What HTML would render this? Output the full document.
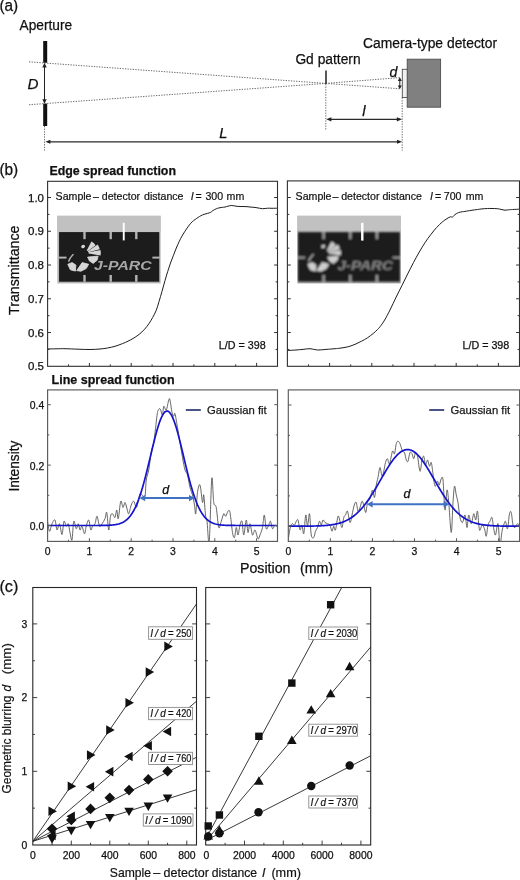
<!DOCTYPE html>
<html><head><meta charset="utf-8"><title>Figure</title>
<style>
html,body{margin:0;padding:0;background:#fff;}
body{width:520px;height:880px;overflow:hidden;}
svg{display:block;font-family:'Liberation Sans', Arial, Helvetica, sans-serif;}
</style></head>
<body>
<svg width="520" height="880" viewBox="0 0 520 880">
<defs>
<filter id="blurA" x="-5%" y="-5%" width="110%" height="110%"><feGaussianBlur stdDeviation="0.6"/></filter>
<filter id="blurB" x="-5%" y="-5%" width="110%" height="110%"><feGaussianBlur stdDeviation="1.2"/></filter>
</defs>
<rect x="0" y="0" width="520" height="880" fill="#ffffff"/>
<text x="-0.6" y="10.9" font-size="15.6" text-anchor="start" font-weight="normal" font-style="normal" fill="#111" textLength="18.8" lengthAdjust="spacingAndGlyphs"  stroke="#111" stroke-width="0.25">(a)</text>
<text x="19.6" y="29.8" font-size="14.9" text-anchor="start" font-weight="normal" font-style="normal" fill="#111" textLength="52.6" lengthAdjust="spacingAndGlyphs"  stroke="#111" stroke-width="0.25">Aperture</text>
<rect x="43.2" y="41" width="4" height="21.8" fill="#111"/>
<rect x="43.2" y="103.6" width="4" height="22.4" fill="#111"/>
<line x1="44.50" y1="65.00" x2="44.50" y2="101.50" stroke="#222" stroke-width="1.0" />
<polygon points="44.50,62.80 46.70,67.40 42.30,67.40" fill="#222" />
<polygon points="44.50,103.80 42.30,99.20 46.70,99.20" fill="#222" />
<text x="27.6" y="89.2" font-size="15.2" text-anchor="start" font-weight="normal" font-style="italic" fill="#111"  stroke="#111" stroke-width="0.25">D</text>
<line x1="29.00" y1="61.84" x2="325.80" y2="83.40" stroke="#686868" stroke-width="1.0" stroke-dasharray="1.3 1.3"/>
<line x1="29.00" y1="104.75" x2="325.80" y2="83.40" stroke="#686868" stroke-width="1.0" stroke-dasharray="1.3 1.3"/>
<line x1="325.80" y1="83.40" x2="400.00" y2="77.60" stroke="#686868" stroke-width="1.0" stroke-dasharray="1.3 1.3"/>
<line x1="325.80" y1="83.40" x2="400.00" y2="88.80" stroke="#686868" stroke-width="1.0" stroke-dasharray="1.3 1.3"/>
<line x1="44.50" y1="126.00" x2="44.50" y2="150.60" stroke="#686868" stroke-width="1.0" stroke-dasharray="1.3 1.3"/>
<line x1="325.80" y1="84.00" x2="325.80" y2="129.50" stroke="#686868" stroke-width="1.0" stroke-dasharray="1.3 1.3"/>
<line x1="402.20" y1="97.60" x2="402.20" y2="150.60" stroke="#686868" stroke-width="1.0" stroke-dasharray="1.3 1.3"/>
<line x1="48.00" y1="141.80" x2="400.00" y2="141.80" stroke="#2a2a2a" stroke-width="1.15" />
<polygon points="45.40,141.80 50.40,139.80 50.40,143.80" fill="#222" />
<polygon points="402.00,141.80 397.00,143.80 397.00,139.80" fill="#222" />
<text x="219.3" y="138" font-size="14.6" text-anchor="start" font-weight="normal" font-style="italic" fill="#111"  stroke="#111" stroke-width="0.25">L</text>
<line x1="329.00" y1="119.30" x2="400.00" y2="119.30" stroke="#2a2a2a" stroke-width="1.15" />
<polygon points="326.20,119.30 331.40,117.20 331.40,121.40" fill="#222" />
<polygon points="402.00,119.30 396.80,121.40 396.80,117.20" fill="#222" />
<text x="362.2" y="115.6" font-size="14.8" text-anchor="start" font-weight="normal" font-style="italic" fill="#111"  stroke="#111" stroke-width="0.25">l</text>
<text x="295.4" y="63.7" font-size="14.9" text-anchor="start" font-weight="normal" font-style="normal" fill="#111" textLength="65.2" lengthAdjust="spacingAndGlyphs"  stroke="#111" stroke-width="0.25">Gd pattern</text>
<line x1="326.00" y1="70.60" x2="326.00" y2="83.60" stroke="#111" stroke-width="1.4" />
<text x="363.0" y="48" font-size="14.9" text-anchor="start" font-weight="normal" font-style="normal" fill="#111" textLength="134" lengthAdjust="spacingAndGlyphs"  stroke="#111" stroke-width="0.25">Camera-type detector</text>
<rect x="407.2" y="59.2" width="33.4" height="48" fill="#808080" stroke="#4d4d4d" stroke-width="0.9"/>
<rect x="402.3" y="69.3" width="4.9" height="28.2" fill="#f0f0f0" stroke="#4d4d4d" stroke-width="0.9"/>
<text x="389.4" y="77" font-size="14.2" text-anchor="start" font-weight="normal" font-style="italic" fill="#111"  stroke="#111" stroke-width="0.25">d</text>
<line x1="399.80" y1="80.00" x2="399.80" y2="86.40" stroke="#222" stroke-width="1.0" />
<polygon points="399.80,77.20 401.80,81.00 397.80,81.00" fill="#222" />
<polygon points="399.80,89.20 397.80,85.40 401.80,85.40" fill="#222" />
<text x="-0.6" y="175.0" font-size="15.8" text-anchor="start" font-weight="normal" font-style="normal" fill="#111" textLength="18.8" lengthAdjust="spacingAndGlyphs"  stroke="#111" stroke-width="0.25">(b)</text>
<text x="49.4" y="174.7" font-size="12.3" text-anchor="start" font-weight="bold" font-style="normal" fill="#111" textLength="126.6" lengthAdjust="spacingAndGlyphs"  stroke="#111" stroke-width="0.25">Edge spread function</text>
<text x="51.6" y="384.2" font-size="12.3" text-anchor="start" font-weight="bold" font-style="normal" fill="#111" textLength="123" lengthAdjust="spacingAndGlyphs"  stroke="#111" stroke-width="0.25">Line spread function</text>
<clipPath id="clipE47"><rect x="47.6" y="181.3" width="229.90" height="185.00"/></clipPath>
<g clip-path="url(#clipE47)">
<path d="M47.50,349.00C48.92,348.97 53.08,348.85 56.00,348.80C58.92,348.75 61.33,348.63 65.00,348.70C68.67,348.77 73.83,349.07 78.00,349.20C82.17,349.33 86.33,349.53 90.00,349.50C93.67,349.47 97.08,349.25 100.00,349.00C102.92,348.75 105.00,348.45 107.50,348.00C110.00,347.55 112.50,347.03 115.00,346.30C117.50,345.57 120.33,344.45 122.50,343.60C124.67,342.75 126.25,342.05 128.00,341.20C129.75,340.35 131.17,339.62 133.00,338.50C134.83,337.38 137.07,336.05 139.00,334.50C140.93,332.95 142.93,331.02 144.60,329.20C146.27,327.38 147.67,325.53 149.00,323.60C150.33,321.67 151.40,319.80 152.60,317.60C153.80,315.40 155.13,313.07 156.20,310.40C157.27,307.73 158.03,304.77 159.00,301.60C159.97,298.43 161.00,294.90 162.00,291.40C163.00,287.90 164.05,283.92 165.00,280.60C165.95,277.28 166.78,274.43 167.70,271.50C168.62,268.57 169.53,265.72 170.50,263.00C171.47,260.28 172.53,257.70 173.50,255.20C174.47,252.70 175.35,250.28 176.30,248.00C177.25,245.72 178.25,243.50 179.20,241.50C180.15,239.50 181.03,237.72 182.00,236.00C182.97,234.28 184.00,232.73 185.00,231.20C186.00,229.67 187.03,228.13 188.00,226.80C188.97,225.47 189.87,224.23 190.80,223.20C191.73,222.17 192.65,221.38 193.60,220.60C194.55,219.82 195.53,219.17 196.50,218.50C197.47,217.83 198.43,217.18 199.40,216.60C200.37,216.02 201.20,215.47 202.30,215.00C203.40,214.53 204.85,214.15 206.00,213.80C207.15,213.45 208.33,213.20 209.20,212.90C210.07,212.60 210.60,212.38 211.20,212.00C211.80,211.62 211.97,211.13 212.80,210.60C213.63,210.07 215.17,209.25 216.20,208.80C217.23,208.35 218.03,208.13 219.00,207.90C219.97,207.67 221.00,207.55 222.00,207.40C223.00,207.25 223.47,207.32 225.00,207.00C226.53,206.68 229.37,205.63 231.20,205.50C233.03,205.37 234.53,206.03 236.00,206.20C237.47,206.37 238.33,206.43 240.00,206.50C241.67,206.57 244.33,206.52 246.00,206.60C247.67,206.68 248.33,206.83 250.00,207.00C251.67,207.17 253.92,207.32 256.00,207.60C258.08,207.88 260.58,208.60 262.50,208.70C264.42,208.80 265.92,208.27 267.50,208.20C269.08,208.13 270.33,208.30 272.00,208.30C273.67,208.30 276.58,208.22 277.50,208.20" fill="none" stroke="#1e1e1e" stroke-width="1.0" stroke-linejoin="round" stroke-linecap="round" />
</g>
<rect x="47.6" y="181.3" width="229.90" height="185.00" fill="none" stroke="#303030" stroke-width="1.1"/>
<text x="44.0" y="370.3" font-size="11.5" text-anchor="end" font-weight="normal" font-style="normal" fill="#111"  stroke="#111" stroke-width="0.25">0.5</text>
<line x1="47.60" y1="349.42" x2="49.50" y2="349.42" stroke="#303030" stroke-width="1.0" />
<line x1="275.60" y1="349.42" x2="277.50" y2="349.42" stroke="#303030" stroke-width="1.0" />
<line x1="47.60" y1="332.54" x2="51.00" y2="332.54" stroke="#303030" stroke-width="1.0" />
<line x1="274.10" y1="332.54" x2="277.50" y2="332.54" stroke="#303030" stroke-width="1.0" />
<text x="44.0" y="336.54" font-size="11.5" text-anchor="end" font-weight="normal" font-style="normal" fill="#111"  stroke="#111" stroke-width="0.25">0.6</text>
<line x1="47.60" y1="315.66" x2="49.50" y2="315.66" stroke="#303030" stroke-width="1.0" />
<line x1="275.60" y1="315.66" x2="277.50" y2="315.66" stroke="#303030" stroke-width="1.0" />
<line x1="47.60" y1="298.78" x2="51.00" y2="298.78" stroke="#303030" stroke-width="1.0" />
<line x1="274.10" y1="298.78" x2="277.50" y2="298.78" stroke="#303030" stroke-width="1.0" />
<text x="44.0" y="302.78000000000003" font-size="11.5" text-anchor="end" font-weight="normal" font-style="normal" fill="#111"  stroke="#111" stroke-width="0.25">0.7</text>
<line x1="47.60" y1="281.90" x2="49.50" y2="281.90" stroke="#303030" stroke-width="1.0" />
<line x1="275.60" y1="281.90" x2="277.50" y2="281.90" stroke="#303030" stroke-width="1.0" />
<line x1="47.60" y1="265.02" x2="51.00" y2="265.02" stroke="#303030" stroke-width="1.0" />
<line x1="274.10" y1="265.02" x2="277.50" y2="265.02" stroke="#303030" stroke-width="1.0" />
<text x="44.0" y="269.02" font-size="11.5" text-anchor="end" font-weight="normal" font-style="normal" fill="#111"  stroke="#111" stroke-width="0.25">0.8</text>
<line x1="47.60" y1="248.14" x2="49.50" y2="248.14" stroke="#303030" stroke-width="1.0" />
<line x1="275.60" y1="248.14" x2="277.50" y2="248.14" stroke="#303030" stroke-width="1.0" />
<line x1="47.60" y1="231.26" x2="51.00" y2="231.26" stroke="#303030" stroke-width="1.0" />
<line x1="274.10" y1="231.26" x2="277.50" y2="231.26" stroke="#303030" stroke-width="1.0" />
<text x="44.0" y="235.26" font-size="11.5" text-anchor="end" font-weight="normal" font-style="normal" fill="#111"  stroke="#111" stroke-width="0.25">0.9</text>
<line x1="47.60" y1="214.38" x2="49.50" y2="214.38" stroke="#303030" stroke-width="1.0" />
<line x1="275.60" y1="214.38" x2="277.50" y2="214.38" stroke="#303030" stroke-width="1.0" />
<line x1="47.60" y1="197.50" x2="51.00" y2="197.50" stroke="#303030" stroke-width="1.0" />
<line x1="274.10" y1="197.50" x2="277.50" y2="197.50" stroke="#303030" stroke-width="1.0" />
<text x="44.0" y="201.5" font-size="11.5" text-anchor="end" font-weight="normal" font-style="normal" fill="#111"  stroke="#111" stroke-width="0.25">1.0</text>
<line x1="68.50" y1="364.40" x2="68.50" y2="366.30" stroke="#303030" stroke-width="1.0" />
<line x1="89.40" y1="362.90" x2="89.40" y2="366.30" stroke="#303030" stroke-width="1.0" />
<line x1="110.30" y1="364.40" x2="110.30" y2="366.30" stroke="#303030" stroke-width="1.0" />
<line x1="131.20" y1="362.90" x2="131.20" y2="366.30" stroke="#303030" stroke-width="1.0" />
<line x1="152.10" y1="364.40" x2="152.10" y2="366.30" stroke="#303030" stroke-width="1.0" />
<line x1="173.00" y1="362.90" x2="173.00" y2="366.30" stroke="#303030" stroke-width="1.0" />
<line x1="193.90" y1="364.40" x2="193.90" y2="366.30" stroke="#303030" stroke-width="1.0" />
<line x1="214.80" y1="362.90" x2="214.80" y2="366.30" stroke="#303030" stroke-width="1.0" />
<line x1="235.70" y1="364.40" x2="235.70" y2="366.30" stroke="#303030" stroke-width="1.0" />
<line x1="256.60" y1="362.90" x2="256.60" y2="366.30" stroke="#303030" stroke-width="1.0" />
<g transform="translate(57.3,215.8)">
<rect x="0" y="0" width="103.3" height="67.6" fill="#b4b4b4"/>
<rect x="0" y="0" width="103.3" height="16.4" fill="#c1c1c1"/>
<clipPath id="icblurA"><rect x="0" y="0" width="103.3" height="67.6"/></clipPath>
<g clip-path="url(#icblurA)"><g filter="url(#blurA)">
<rect x="1.8" y="16.3" width="100.1" height="49.6" fill="#1a1a1a"/>
<rect x="26.0" y="16.2" width="2.4" height="7.2" fill="#b4b4b4"/>
<rect x="26.0" y="59.2" width="2.4" height="6.8" fill="#b4b4b4"/>
<rect x="52.199999999999996" y="16.2" width="2.4" height="7.2" fill="#b4b4b4"/>
<rect x="52.199999999999996" y="59.2" width="2.4" height="6.8" fill="#b4b4b4"/>
<rect x="77.8" y="16.2" width="2.4" height="7.2" fill="#b4b4b4"/>
<rect x="77.8" y="59.2" width="2.4" height="6.8" fill="#b4b4b4"/>
<rect x="1.8" y="40.8" width="7.4" height="2.0" fill="#b4b4b4"/>
<rect x="95.1" y="40.8" width="7.4" height="2.0" fill="#b4b4b4"/>
<path d="M29.41,34.63L34.11,25.80A12.8,12.8 0 0 1 38.32,29.40L30.34,35.41A2.8,2.8 0 0 0 29.41,34.63Z" fill="#d6d6d6"/>
<path d="M30.59,35.42L40.37,28.82A14.8,14.8 0 0 1 42.46,33.52L31.01,36.37A3.0,3.0 0 0 0 30.59,35.42Z" fill="#d6d6d6"/>
<path d="M31.24,36.49L43.22,34.16A15.4,15.4 0 0 1 43.27,39.77L31.25,37.66A3.2,3.2 0 0 0 31.24,36.49Z" fill="#d6d6d6"/>
<polygon points="30.3,41.3 40.8,40.3 39.9,44.4 35.9,47.6 32.1,45.1" fill="#d6d6d6" stroke="#d6d6d6" stroke-width="0.8" stroke-linejoin="round"/>
<polygon points="19.4,54.8 24.9,46.8 31.3,48.5 28.9,52.7 23.6,55.4" fill="#d6d6d6" stroke="#d6d6d6" stroke-width="0.9" stroke-linejoin="round"/>
<polygon points="10.5,48.5 14.8,46.8 18.6,49.3 18.1,55.3 13.1,54.0" fill="#d6d6d6" stroke="#d6d6d6" stroke-width="0.9" stroke-linejoin="round"/>
<path d="M15.8,38.6 Q12.4,42.0 11.4,45.4" fill="none" stroke="#b0b0b0" stroke-width="1.4" stroke-linecap="round"/>
<ellipse cx="25.8" cy="30.7" rx="2.0" ry="1.6" fill="#d6d6d6" transform="rotate(-25 25.8 30.7)"/>
<text x="36.8" y="54.6" font-size="12.6" font-weight="bold" font-style="italic" fill="#a8a8a8" textLength="57.5" lengthAdjust="spacingAndGlyphs">J-PARC</text>
</g></g>
<rect x="65.5" y="7" width="1.9" height="17.6" fill="#ffffff"/>
</g>
<text y="199.8" font-size="10.6" fill="#111" stroke="#111" stroke-width="0.2"><tspan x="55.6">Sample</tspan><tspan x="93.0">–</tspan><tspan x="101.8">detector</tspan><tspan x="144.0">distance</tspan><tspan x="191.0" font-style="italic">l</tspan><tspan x="195.6">=</tspan><tspan x="205.4">300</tspan><tspan x="226.6">mm</tspan></text>
<text x="218.8" y="348.8" font-size="10.6" text-anchor="start" font-weight="normal" font-style="normal" fill="#111" textLength="46.8" lengthAdjust="spacingAndGlyphs"  stroke="#111" stroke-width="0.25">L/D = 398</text>
<clipPath id="clipE287"><rect x="287.4" y="180.9" width="232.10" height="185.40"/></clipPath>
<g clip-path="url(#clipE287)">
<path d="M287.40,350.50C288.83,350.42 293.40,350.18 296.00,350.00C298.60,349.82 300.67,349.62 303.00,349.40C305.33,349.18 307.58,348.60 310.00,348.70C312.42,348.80 314.83,349.88 317.50,350.00C320.17,350.12 323.08,349.62 326.00,349.40C328.92,349.18 332.67,348.90 335.00,348.70C337.33,348.50 338.33,348.42 340.00,348.20C341.67,347.98 343.33,347.73 345.00,347.40C346.67,347.07 348.17,346.78 350.00,346.20C351.83,345.62 354.08,344.73 356.00,343.90C357.92,343.07 359.58,342.22 361.50,341.20C363.42,340.18 365.57,339.07 367.50,337.80C369.43,336.53 371.52,334.90 373.10,333.60C374.68,332.30 375.85,331.13 377.00,330.00C378.15,328.87 378.73,328.45 380.00,326.80C381.27,325.15 382.93,322.90 384.60,320.10C386.27,317.30 388.07,313.85 390.00,310.00C391.93,306.15 394.20,301.10 396.20,297.00C398.20,292.90 400.08,289.25 402.00,285.40C403.92,281.55 405.78,277.72 407.70,273.90C409.62,270.08 411.57,266.15 413.50,262.50C415.43,258.85 417.38,255.32 419.30,252.00C421.22,248.68 423.08,245.50 425.00,242.60C426.92,239.70 428.88,237.10 430.80,234.60C432.72,232.10 434.57,229.72 436.50,227.60C438.43,225.48 440.65,223.40 442.40,221.90C444.15,220.40 445.65,219.45 447.00,218.60C448.35,217.75 449.58,217.07 450.50,216.80C451.42,216.53 451.75,217.37 452.50,217.00C453.25,216.63 454.00,215.33 455.00,214.60C456.00,213.87 457.33,213.07 458.50,212.60C459.67,212.13 460.92,212.00 462.00,211.80C463.08,211.60 463.50,211.63 465.00,211.40C466.50,211.17 468.92,210.72 471.00,210.40C473.08,210.08 475.67,209.75 477.50,209.50C479.33,209.25 480.33,209.07 482.00,208.90C483.67,208.73 485.83,208.57 487.50,208.50C489.17,208.43 490.33,208.47 492.00,208.50C493.67,208.53 496.00,208.55 497.50,208.70C499.00,208.85 499.75,209.15 501.00,209.40C502.25,209.65 503.75,210.13 505.00,210.20C506.25,210.27 507.25,209.92 508.50,209.80C509.75,209.68 510.65,209.60 512.50,209.50C514.35,209.40 518.42,209.25 519.60,209.20" fill="none" stroke="#1e1e1e" stroke-width="1.0" stroke-linejoin="round" stroke-linecap="round" />
</g>
<rect x="287.4" y="180.9" width="232.10" height="185.40" fill="none" stroke="#303030" stroke-width="1.1"/>
<line x1="287.40" y1="349.42" x2="289.30" y2="349.42" stroke="#303030" stroke-width="1.0" />
<line x1="517.60" y1="349.42" x2="519.50" y2="349.42" stroke="#303030" stroke-width="1.0" />
<line x1="287.40" y1="332.54" x2="290.80" y2="332.54" stroke="#303030" stroke-width="1.0" />
<line x1="516.10" y1="332.54" x2="519.50" y2="332.54" stroke="#303030" stroke-width="1.0" />
<line x1="287.40" y1="315.66" x2="289.30" y2="315.66" stroke="#303030" stroke-width="1.0" />
<line x1="517.60" y1="315.66" x2="519.50" y2="315.66" stroke="#303030" stroke-width="1.0" />
<line x1="287.40" y1="298.78" x2="290.80" y2="298.78" stroke="#303030" stroke-width="1.0" />
<line x1="516.10" y1="298.78" x2="519.50" y2="298.78" stroke="#303030" stroke-width="1.0" />
<line x1="287.40" y1="281.90" x2="289.30" y2="281.90" stroke="#303030" stroke-width="1.0" />
<line x1="517.60" y1="281.90" x2="519.50" y2="281.90" stroke="#303030" stroke-width="1.0" />
<line x1="287.40" y1="265.02" x2="290.80" y2="265.02" stroke="#303030" stroke-width="1.0" />
<line x1="516.10" y1="265.02" x2="519.50" y2="265.02" stroke="#303030" stroke-width="1.0" />
<line x1="287.40" y1="248.14" x2="289.30" y2="248.14" stroke="#303030" stroke-width="1.0" />
<line x1="517.60" y1="248.14" x2="519.50" y2="248.14" stroke="#303030" stroke-width="1.0" />
<line x1="287.40" y1="231.26" x2="290.80" y2="231.26" stroke="#303030" stroke-width="1.0" />
<line x1="516.10" y1="231.26" x2="519.50" y2="231.26" stroke="#303030" stroke-width="1.0" />
<line x1="287.40" y1="214.38" x2="289.30" y2="214.38" stroke="#303030" stroke-width="1.0" />
<line x1="517.60" y1="214.38" x2="519.50" y2="214.38" stroke="#303030" stroke-width="1.0" />
<line x1="287.40" y1="197.50" x2="290.80" y2="197.50" stroke="#303030" stroke-width="1.0" />
<line x1="516.10" y1="197.50" x2="519.50" y2="197.50" stroke="#303030" stroke-width="1.0" />
<line x1="308.50" y1="364.40" x2="308.50" y2="366.30" stroke="#303030" stroke-width="1.0" />
<line x1="329.60" y1="362.90" x2="329.60" y2="366.30" stroke="#303030" stroke-width="1.0" />
<line x1="350.70" y1="364.40" x2="350.70" y2="366.30" stroke="#303030" stroke-width="1.0" />
<line x1="371.80" y1="362.90" x2="371.80" y2="366.30" stroke="#303030" stroke-width="1.0" />
<line x1="392.90" y1="364.40" x2="392.90" y2="366.30" stroke="#303030" stroke-width="1.0" />
<line x1="414.00" y1="362.90" x2="414.00" y2="366.30" stroke="#303030" stroke-width="1.0" />
<line x1="435.10" y1="364.40" x2="435.10" y2="366.30" stroke="#303030" stroke-width="1.0" />
<line x1="456.20" y1="362.90" x2="456.20" y2="366.30" stroke="#303030" stroke-width="1.0" />
<line x1="477.30" y1="364.40" x2="477.30" y2="366.30" stroke="#303030" stroke-width="1.0" />
<line x1="498.40" y1="362.90" x2="498.40" y2="366.30" stroke="#303030" stroke-width="1.0" />
<g transform="translate(297.4,215.8)">
<rect x="0" y="0" width="103.3" height="67.6" fill="#b4b4b4"/>
<rect x="0" y="0" width="103.3" height="16.4" fill="#c1c1c1"/>
<clipPath id="icblurB"><rect x="0" y="0" width="103.3" height="67.6"/></clipPath>
<g clip-path="url(#icblurB)"><g filter="url(#blurB)">
<rect x="0.4" y="16.3" width="102.3" height="49.6" fill="#1a1a1a"/>
<rect x="25.0" y="16.2" width="2.4" height="7.2" fill="#9c9c9c"/>
<rect x="25.0" y="59.2" width="2.4" height="6.8" fill="#9c9c9c"/>
<rect x="51.699999999999996" y="16.2" width="2.4" height="7.2" fill="#9c9c9c"/>
<rect x="51.699999999999996" y="59.2" width="2.4" height="6.8" fill="#9c9c9c"/>
<rect x="78.3" y="16.2" width="2.4" height="7.2" fill="#9c9c9c"/>
<rect x="78.3" y="59.2" width="2.4" height="6.8" fill="#9c9c9c"/>
<rect x="0.4" y="40.8" width="7.4" height="2.0" fill="#9c9c9c"/>
<rect x="95.1" y="40.8" width="7.4" height="2.0" fill="#9c9c9c"/>
<path d="M29.41,34.63L34.11,25.80A12.8,12.8 0 0 1 38.32,29.40L30.34,35.41A2.8,2.8 0 0 0 29.41,34.63Z" fill="#cfcfcf"/>
<path d="M30.59,35.42L40.37,28.82A14.8,14.8 0 0 1 42.46,33.52L31.01,36.37A3.0,3.0 0 0 0 30.59,35.42Z" fill="#cfcfcf"/>
<path d="M31.24,36.49L43.22,34.16A15.4,15.4 0 0 1 43.27,39.77L31.25,37.66A3.2,3.2 0 0 0 31.24,36.49Z" fill="#cfcfcf"/>
<polygon points="30.3,41.3 40.8,40.3 39.9,44.4 35.9,47.6 32.1,45.1" fill="#cfcfcf" stroke="#cfcfcf" stroke-width="0.8" stroke-linejoin="round"/>
<polygon points="19.4,54.8 24.9,46.8 31.3,48.5 28.9,52.7 23.6,55.4" fill="#cfcfcf" stroke="#cfcfcf" stroke-width="0.9" stroke-linejoin="round"/>
<polygon points="10.5,48.5 14.8,46.8 18.6,49.3 18.1,55.3 13.1,54.0" fill="#cfcfcf" stroke="#cfcfcf" stroke-width="0.9" stroke-linejoin="round"/>
<path d="M15.8,38.6 Q12.4,42.0 11.4,45.4" fill="none" stroke="#b0b0b0" stroke-width="1.4" stroke-linecap="round"/>
<ellipse cx="25.8" cy="30.7" rx="2.0" ry="1.6" fill="#cfcfcf" transform="rotate(-25 25.8 30.7)"/>
<text x="40.0" y="54.4" font-size="12.2" font-weight="bold" font-style="italic" fill="#858585" textLength="55.5" lengthAdjust="spacingAndGlyphs">J-PARC</text>
</g></g>
<rect x="63.7" y="7.0" width="2.4" height="17.8" fill="#ffffff"/>
</g>
<text y="199.8" font-size="10.6" fill="#111" stroke="#111" stroke-width="0.2"><tspan x="295.6">Sample</tspan><tspan x="332.4">–</tspan><tspan x="341.2">detector</tspan><tspan x="382.4">distance</tspan><tspan x="430.2" font-style="italic">l</tspan><tspan x="435.0">=</tspan><tspan x="443.8">700</tspan><tspan x="465.8">mm</tspan></text>
<text x="462.5" y="348.8" font-size="10.6" text-anchor="start" font-weight="normal" font-style="normal" fill="#111" textLength="46.8" lengthAdjust="spacingAndGlyphs"  stroke="#111" stroke-width="0.25">L/D = 398</text>
<text x="0" y="0" font-size="14.6" text-anchor="middle" font-weight="normal" font-style="normal" fill="#111" textLength="89.4" lengthAdjust="spacingAndGlyphs" transform="translate(19.1,270.3) rotate(-90)" stroke="#111" stroke-width="0.25">Transmittance</text>
<text x="0" y="0" font-size="13.8" text-anchor="middle" font-weight="normal" font-style="normal" fill="#111" textLength="51" lengthAdjust="spacingAndGlyphs" transform="translate(19.3,466.1) rotate(-90)" stroke="#111" stroke-width="0.25">Intensity</text>
<clipPath id="clip47"><rect x="47.6" y="389.9" width="229.90" height="151.50"/></clipPath>
<g clip-path="url(#clip47)">
<path d="M47.50,521.25C47.83,522.92 48.75,530.83 49.50,531.25C50.25,531.67 51.08,525.62 52.00,523.75C52.92,521.88 54.17,518.96 55.00,520.00C55.83,521.04 56.25,529.38 57.00,530.00C57.75,530.62 58.67,523.00 59.50,523.75C60.33,524.50 61.25,534.92 62.00,534.50C62.75,534.08 63.29,522.62 64.00,521.25C64.71,519.88 65.54,525.83 66.25,526.25C66.96,526.67 67.62,522.71 68.25,523.75C68.88,524.79 69.38,529.79 70.00,532.50C70.62,535.21 71.38,541.88 72.00,540.00C72.62,538.12 73.04,523.12 73.75,521.25C74.46,519.38 75.50,528.33 76.25,528.75C77.00,529.17 77.62,523.54 78.25,523.75C78.88,523.96 79.38,529.58 80.00,530.00C80.62,530.42 81.25,525.62 82.00,526.25C82.75,526.88 83.79,533.75 84.50,533.75C85.21,533.75 85.54,528.54 86.25,526.25C86.96,523.96 88.00,519.38 88.75,520.00C89.50,520.62 90.12,528.96 90.75,530.00C91.38,531.04 91.79,527.29 92.50,526.25C93.21,525.21 94.25,525.42 95.00,523.75C95.75,522.08 96.25,515.83 97.00,516.25C97.75,516.67 98.67,525.00 99.50,526.25C100.33,527.50 101.08,525.00 102.00,523.75C102.92,522.50 104.21,520.62 105.00,518.75C105.79,516.88 106.12,510.62 106.75,512.50C107.38,514.38 108.12,529.38 108.75,530.00C109.38,530.62 109.88,518.96 110.50,516.25C111.12,513.54 111.75,513.54 112.50,513.75C113.25,513.96 114.29,518.12 115.00,517.50C115.71,516.88 116.21,509.79 116.75,510.00C117.29,510.21 117.58,520.21 118.25,518.75C118.92,517.29 119.96,503.12 120.75,501.25C121.54,499.38 122.29,507.29 123.00,507.50C123.71,507.71 124.33,502.29 125.00,502.50C125.67,502.71 126.38,506.88 127.00,508.75C127.62,510.62 128.04,514.38 128.75,513.75C129.46,513.12 130.42,507.08 131.25,505.00C132.08,502.92 132.92,500.83 133.75,501.25C134.58,501.67 135.54,507.29 136.25,507.50C136.96,507.71 137.38,504.79 138.00,502.50C138.62,500.21 139.33,495.00 140.00,493.75C140.67,492.50 141.17,494.58 142.00,495.00C142.83,495.42 144.29,498.75 145.00,496.25C145.71,493.75 145.62,484.38 146.25,480.00C146.88,475.62 147.92,474.58 148.75,470.00C149.58,465.42 150.42,457.08 151.25,452.50C152.08,447.92 153.04,446.46 153.75,442.50C154.46,438.54 154.88,433.75 155.50,428.75C156.12,423.75 156.75,415.83 157.50,412.50C158.25,409.17 159.17,408.33 160.00,408.75C160.83,409.17 161.88,415.42 162.50,415.00C163.12,414.58 163.12,407.08 163.75,406.25C164.38,405.42 165.42,411.04 166.25,410.00C167.08,408.96 168.12,401.67 168.75,400.00C169.38,398.33 169.46,397.92 170.00,400.00C170.54,402.08 171.38,409.79 172.00,412.50C172.62,415.21 173.25,416.04 173.75,416.25C174.25,416.46 174.38,411.88 175.00,413.75C175.62,415.62 176.67,422.71 177.50,427.50C178.33,432.29 179.17,437.50 180.00,442.50C180.83,447.50 181.67,452.92 182.50,457.50C183.33,462.08 184.17,467.08 185.00,470.00C185.83,472.92 186.67,472.08 187.50,475.00C188.33,477.92 189.17,484.17 190.00,487.50C190.83,490.83 191.75,492.08 192.50,495.00C193.25,497.92 193.96,501.88 194.50,505.00C195.04,508.12 195.25,515.83 195.75,513.75C196.25,511.67 196.79,497.29 197.50,492.50C198.21,487.71 199.17,483.33 200.00,485.00C200.83,486.67 201.88,500.83 202.50,502.50C203.12,504.17 203.25,492.92 203.75,495.00C204.25,497.08 204.96,510.62 205.50,515.00C206.04,519.38 206.38,516.88 207.00,521.25C207.62,525.62 208.46,548.33 209.25,541.25C210.04,534.17 211.00,485.21 211.75,478.75C212.50,472.29 213.00,497.71 213.75,502.50C214.50,507.29 215.42,503.33 216.25,507.50C217.08,511.67 217.92,525.21 218.75,527.50C219.58,529.79 220.42,523.54 221.25,521.25C222.08,518.96 223.00,514.58 223.75,513.75C224.50,512.92 225.04,516.67 225.75,516.25C226.46,515.83 227.29,511.88 228.00,511.25C228.71,510.62 229.25,508.96 230.00,512.50C230.75,516.04 231.75,528.33 232.50,532.50C233.25,536.67 233.88,538.33 234.50,537.50C235.12,536.67 235.67,527.92 236.25,527.50C236.83,527.08 237.38,535.42 238.00,535.00C238.62,534.58 239.33,527.29 240.00,525.00C240.67,522.71 241.38,519.58 242.00,521.25C242.62,522.92 243.04,535.21 243.75,535.00C244.46,534.79 245.54,520.42 246.25,520.00C246.96,519.58 247.38,531.88 248.00,532.50C248.62,533.12 249.25,523.33 250.00,523.75C250.75,524.17 251.67,533.96 252.50,535.00C253.33,536.04 254.08,529.38 255.00,530.00C255.92,530.62 257.17,537.92 258.00,538.75C258.83,539.58 259.25,536.88 260.00,535.00C260.75,533.12 261.79,530.83 262.50,527.50C263.21,524.17 263.62,514.79 264.25,515.00C264.88,515.21 265.50,527.08 266.25,528.75C267.00,530.42 268.04,526.25 268.75,525.00C269.46,523.75 269.88,520.62 270.50,521.25C271.12,521.88 271.75,528.12 272.50,528.75C273.25,529.38 274.17,525.21 275.00,525.00C275.83,524.79 277.08,527.08 277.50,527.50" fill="none" stroke="#555" stroke-width="0.9" stroke-linejoin="round" stroke-linecap="round" />
<polyline points="47.60,525.50 48.60,525.50 49.60,525.50 50.60,525.50 51.60,525.50 52.60,525.50 53.60,525.50 54.60,525.50 55.60,525.50 56.60,525.50 57.60,525.50 58.60,525.50 59.60,525.50 60.60,525.50 61.60,525.50 62.60,525.50 63.60,525.50 64.60,525.50 65.60,525.50 66.60,525.50 67.60,525.50 68.60,525.50 69.60,525.50 70.60,525.50 71.60,525.50 72.60,525.50 73.60,525.50 74.60,525.50 75.60,525.50 76.60,525.50 77.60,525.50 78.60,525.50 79.60,525.50 80.60,525.50 81.60,525.50 82.60,525.50 83.60,525.50 84.60,525.50 85.60,525.50 86.60,525.50 87.60,525.50 88.60,525.50 89.60,525.50 90.60,525.50 91.60,525.50 92.60,525.50 93.60,525.49 94.60,525.49 95.60,525.49 96.60,525.49 97.60,525.48 98.60,525.48 99.60,525.47 100.60,525.47 101.60,525.46 102.60,525.44 103.60,525.43 104.60,525.41 105.60,525.39 106.60,525.36 107.60,525.32 108.60,525.28 109.60,525.23 110.60,525.17 111.60,525.09 112.60,525.00 113.60,524.89 114.60,524.76 115.60,524.61 116.60,524.42 117.60,524.21 118.60,523.95 119.60,523.65 120.60,523.30 121.60,522.90 122.60,522.44 123.60,521.90 124.60,521.29 125.60,520.58 126.60,519.79 127.60,518.89 128.60,517.87 129.60,516.73 130.60,515.46 131.60,514.04 132.60,512.47 133.60,510.75 134.60,508.85 135.60,506.78 136.60,504.53 137.60,502.10 138.60,499.48 139.60,496.67 140.60,493.68 141.60,490.50 142.60,487.15 143.60,483.63 144.60,479.95 145.60,476.14 146.60,472.20 147.60,468.16 148.60,464.04 149.60,459.86 150.60,455.66 151.60,451.46 152.60,447.29 153.60,443.19 154.60,439.20 155.60,435.35 156.60,431.66 157.60,428.19 158.60,424.95 159.60,421.99 160.60,419.34 161.60,417.01 162.60,415.04 163.60,413.45 164.60,412.25 165.60,411.45 166.60,411.08 167.60,411.12 168.60,411.58 169.60,412.45 170.60,413.73 171.60,415.40 172.60,417.45 173.60,419.84 174.60,422.56 175.60,425.58 176.60,428.86 177.60,432.38 178.60,436.10 179.60,439.99 180.60,444.01 181.60,448.12 182.60,452.29 183.60,456.50 184.60,460.70 185.60,464.87 186.60,468.98 187.60,473.00 188.60,476.91 189.60,480.70 190.60,484.35 191.60,487.83 192.60,491.15 193.60,494.29 194.60,497.25 195.60,500.02 196.60,502.60 197.60,505.00 198.60,507.21 199.60,509.25 200.60,511.11 201.60,512.80 202.60,514.34 203.60,515.72 204.60,516.97 205.60,518.08 206.60,519.07 207.60,519.95 208.60,520.73 209.60,521.42 210.60,522.01 211.60,522.53 212.60,522.99 213.60,523.38 214.60,523.72 215.60,524.00 216.60,524.25 217.60,524.46 218.60,524.64 219.60,524.79 220.60,524.91 221.60,525.02 222.60,525.11 223.60,525.18 224.60,525.24 225.60,525.29 226.60,525.33 227.60,525.37 228.60,525.39 229.60,525.41 230.60,525.43 231.60,525.45 232.60,525.46 233.60,525.47 234.60,525.47 235.60,525.48 236.60,525.48 237.60,525.49 238.60,525.49 239.60,525.49 240.60,525.49 241.60,525.50 242.60,525.50 243.60,525.50 244.60,525.50 245.60,525.50 246.60,525.50 247.60,525.50 248.60,525.50 249.60,525.50 250.60,525.50 251.60,525.50 252.60,525.50 253.60,525.50 254.60,525.50 255.60,525.50 256.60,525.50 257.60,525.50 258.60,525.50 259.60,525.50 260.60,525.50 261.60,525.50 262.60,525.50 263.60,525.50 264.60,525.50 265.60,525.50 266.60,525.50 267.60,525.50 268.60,525.50 269.60,525.50 270.60,525.50 271.60,525.50 272.60,525.50 273.60,525.50 274.60,525.50 275.60,525.50 276.60,525.50" fill="none" stroke="#1414cc" stroke-width="1.7" stroke-linejoin="round" />
</g>
<rect x="47.6" y="389.9" width="229.90" height="151.50" fill="none" stroke="#5a5a5a" stroke-width="1.15"/>
<line x1="47.60" y1="525.50" x2="50.80" y2="525.50" stroke="#5a5a5a" stroke-width="1.0" />
<line x1="274.30" y1="525.50" x2="277.50" y2="525.50" stroke="#5a5a5a" stroke-width="1.0" />
<text x="44.2" y="529.9" font-size="10.4" text-anchor="end" font-weight="normal" font-style="normal" fill="#111"  stroke="#111" stroke-width="0.25">0.0</text>
<line x1="47.60" y1="495.30" x2="49.30" y2="495.30" stroke="#5a5a5a" stroke-width="1.0" />
<line x1="275.80" y1="495.30" x2="277.50" y2="495.30" stroke="#5a5a5a" stroke-width="1.0" />
<line x1="47.60" y1="465.10" x2="50.80" y2="465.10" stroke="#5a5a5a" stroke-width="1.0" />
<line x1="274.30" y1="465.10" x2="277.50" y2="465.10" stroke="#5a5a5a" stroke-width="1.0" />
<text x="44.2" y="469.5" font-size="10.4" text-anchor="end" font-weight="normal" font-style="normal" fill="#111"  stroke="#111" stroke-width="0.25">0.2</text>
<line x1="47.60" y1="434.90" x2="49.30" y2="434.90" stroke="#5a5a5a" stroke-width="1.0" />
<line x1="275.80" y1="434.90" x2="277.50" y2="434.90" stroke="#5a5a5a" stroke-width="1.0" />
<line x1="47.60" y1="404.70" x2="50.80" y2="404.70" stroke="#5a5a5a" stroke-width="1.0" />
<line x1="274.30" y1="404.70" x2="277.50" y2="404.70" stroke="#5a5a5a" stroke-width="1.0" />
<text x="44.2" y="409.09999999999997" font-size="10.4" text-anchor="end" font-weight="normal" font-style="normal" fill="#111"  stroke="#111" stroke-width="0.25">0.4</text>
<text x="47.6" y="554.8" font-size="10.4" text-anchor="middle" font-weight="normal" font-style="normal" fill="#111"  stroke="#111" stroke-width="0.25">0</text>
<line x1="68.50" y1="539.70" x2="68.50" y2="541.40" stroke="#5a5a5a" stroke-width="1.0" />
<line x1="89.40" y1="538.20" x2="89.40" y2="541.40" stroke="#5a5a5a" stroke-width="1.0" />
<text x="89.4" y="554.8" font-size="10.4" text-anchor="middle" font-weight="normal" font-style="normal" fill="#111"  stroke="#111" stroke-width="0.25">1</text>
<line x1="110.30" y1="539.70" x2="110.30" y2="541.40" stroke="#5a5a5a" stroke-width="1.0" />
<line x1="131.20" y1="538.20" x2="131.20" y2="541.40" stroke="#5a5a5a" stroke-width="1.0" />
<text x="131.20000000000002" y="554.8" font-size="10.4" text-anchor="middle" font-weight="normal" font-style="normal" fill="#111"  stroke="#111" stroke-width="0.25">2</text>
<line x1="152.10" y1="539.70" x2="152.10" y2="541.40" stroke="#5a5a5a" stroke-width="1.0" />
<line x1="173.00" y1="538.20" x2="173.00" y2="541.40" stroke="#5a5a5a" stroke-width="1.0" />
<text x="173.0" y="554.8" font-size="10.4" text-anchor="middle" font-weight="normal" font-style="normal" fill="#111"  stroke="#111" stroke-width="0.25">3</text>
<line x1="193.90" y1="539.70" x2="193.90" y2="541.40" stroke="#5a5a5a" stroke-width="1.0" />
<line x1="214.80" y1="538.20" x2="214.80" y2="541.40" stroke="#5a5a5a" stroke-width="1.0" />
<text x="214.8" y="554.8" font-size="10.4" text-anchor="middle" font-weight="normal" font-style="normal" fill="#111"  stroke="#111" stroke-width="0.25">4</text>
<line x1="235.70" y1="539.70" x2="235.70" y2="541.40" stroke="#5a5a5a" stroke-width="1.0" />
<line x1="256.60" y1="538.20" x2="256.60" y2="541.40" stroke="#5a5a5a" stroke-width="1.0" />
<text x="256.6" y="554.8" font-size="10.4" text-anchor="middle" font-weight="normal" font-style="normal" fill="#111"  stroke="#111" stroke-width="0.25">5</text>
<line x1="143.40" y1="498.10" x2="190.80" y2="498.10" stroke="#3f72c4" stroke-width="2.0" />
<polygon points="139.40,498.10 145.20,494.90 145.20,501.30" fill="#3f72c4" />
<polygon points="194.80,498.10 189.00,501.30 189.00,494.90" fill="#3f72c4" />
<text x="162.2" y="494.2" font-size="12.4" text-anchor="start" font-weight="normal" font-style="italic" fill="#111"  stroke="#111" stroke-width="0.25">d</text>
<line x1="185.80" y1="410.00" x2="200.80" y2="410.00" stroke="#1c2a66" stroke-width="1.6" />
<text x="207.10000000000002" y="413.8" font-size="11" text-anchor="start" font-weight="normal" font-style="normal" fill="#1a1a1a" textLength="59.6" lengthAdjust="spacingAndGlyphs"  stroke="#1a1a1a" stroke-width="0.25">Gaussian fit</text>
<clipPath id="clip288"><rect x="288.3" y="389.9" width="231.30" height="151.50"/></clipPath>
<g clip-path="url(#clip288)">
<path d="M288.00,541.25C288.33,539.17 289.33,531.67 290.00,528.75C290.67,525.83 291.25,524.38 292.00,523.75C292.75,523.12 293.79,525.42 294.50,525.00C295.21,524.58 295.67,522.08 296.25,521.25C296.83,520.42 297.38,518.54 298.00,520.00C298.62,521.46 299.33,529.17 300.00,530.00C300.67,530.83 301.38,524.38 302.00,525.00C302.62,525.62 303.12,535.42 303.75,533.75C304.38,532.08 305.12,516.25 305.75,515.00C306.38,513.75 306.88,526.46 307.50,526.25C308.12,526.04 308.88,512.29 309.50,513.75C310.12,515.21 310.54,531.04 311.25,535.00C311.96,538.96 313.04,538.12 313.75,537.50C314.46,536.88 314.88,532.92 315.50,531.25C316.12,529.58 316.83,529.17 317.50,527.50C318.17,525.83 318.88,521.67 319.50,521.25C320.12,520.83 320.67,525.21 321.25,525.00C321.83,524.79 322.38,520.42 323.00,520.00C323.62,519.58 324.25,521.88 325.00,522.50C325.75,523.12 326.67,523.33 327.50,523.75C328.33,524.17 329.25,523.75 330.00,525.00C330.75,526.25 331.38,531.04 332.00,531.25C332.62,531.46 333.17,526.46 333.75,526.25C334.33,526.04 334.79,531.67 335.50,530.00C336.21,528.33 337.25,517.71 338.00,516.25C338.75,514.79 339.33,519.38 340.00,521.25C340.67,523.12 341.38,528.12 342.00,527.50C342.62,526.88 343.17,519.58 343.75,517.50C344.33,515.42 344.88,516.04 345.50,515.00C346.12,513.96 346.75,510.00 347.50,511.25C348.25,512.50 349.25,521.88 350.00,522.50C350.75,523.12 351.29,517.92 352.00,515.00C352.71,512.08 353.54,507.08 354.25,505.00C354.96,502.92 355.62,501.46 356.25,502.50C356.88,503.54 357.38,510.42 358.00,511.25C358.62,512.08 359.33,509.17 360.00,507.50C360.67,505.83 361.38,501.67 362.00,501.25C362.62,500.83 363.12,503.12 363.75,505.00C364.38,506.88 365.12,512.92 365.75,512.50C366.38,512.08 366.79,504.79 367.50,502.50C368.21,500.21 369.17,500.83 370.00,498.75C370.83,496.67 371.75,490.21 372.50,490.00C373.25,489.79 373.88,498.33 374.50,497.50C375.12,496.67 375.67,488.33 376.25,485.00C376.83,481.67 377.38,480.42 378.00,477.50C378.62,474.58 379.33,467.71 380.00,467.50C380.67,467.29 381.38,475.62 382.00,476.25C382.62,476.88 383.17,473.54 383.75,471.25C384.33,468.96 384.88,464.58 385.50,462.50C386.12,460.42 386.83,458.54 387.50,458.75C388.17,458.96 388.67,465.00 389.50,463.75C390.33,462.50 391.67,452.92 392.50,451.25C393.33,449.58 393.88,455.00 394.50,453.75C395.12,452.50 395.67,445.83 396.25,443.75C396.83,441.67 397.38,441.25 398.00,441.25C398.62,441.25 399.25,442.08 400.00,443.75C400.75,445.42 401.75,449.79 402.50,451.25C403.25,452.71 403.88,451.04 404.50,452.50C405.12,453.96 405.67,458.54 406.25,460.00C406.83,461.46 407.38,462.50 408.00,461.25C408.62,460.00 409.33,453.75 410.00,452.50C410.67,451.25 411.38,452.71 412.00,453.75C412.62,454.79 413.17,458.96 413.75,458.75C414.33,458.54 414.88,452.92 415.50,452.50C416.12,452.08 416.75,453.12 417.50,456.25C418.25,459.38 419.25,470.62 420.00,471.25C420.75,471.88 421.38,462.50 422.00,460.00C422.62,457.50 423.17,455.42 423.75,456.25C424.33,457.08 424.88,464.38 425.50,465.00C426.12,465.62 426.83,459.79 427.50,460.00C428.17,460.21 428.88,465.83 429.50,466.25C430.12,466.67 430.67,461.25 431.25,462.50C431.83,463.75 432.38,469.79 433.00,473.75C433.62,477.71 434.25,485.00 435.00,486.25C435.75,487.50 436.79,481.46 437.50,481.25C438.21,481.04 438.62,485.42 439.25,485.00C439.88,484.58 440.62,479.58 441.25,478.75C441.88,477.92 442.38,474.79 443.00,480.00C443.62,485.21 444.33,508.33 445.00,510.00C445.67,511.67 446.38,491.25 447.00,490.00C447.62,488.75 448.04,495.42 448.75,502.50C449.46,509.58 450.54,532.50 451.25,532.50C451.96,532.50 452.46,510.21 453.00,502.50C453.54,494.79 453.96,487.50 454.50,486.25C455.04,485.00 455.67,492.29 456.25,495.00C456.83,497.71 457.38,498.75 458.00,502.50C458.62,506.25 459.25,514.17 460.00,517.50C460.75,520.83 461.67,522.92 462.50,522.50C463.33,522.08 464.25,514.17 465.00,515.00C465.75,515.83 466.38,527.50 467.00,527.50C467.62,527.50 468.04,515.62 468.75,515.00C469.46,514.38 470.42,523.96 471.25,523.75C472.08,523.54 473.00,514.38 473.75,513.75C474.50,513.12 475.12,520.42 475.75,520.00C476.38,519.58 476.88,509.58 477.50,511.25C478.12,512.92 478.75,527.71 479.50,530.00C480.25,532.29 481.17,525.21 482.00,525.00C482.83,524.79 483.79,526.88 484.50,528.75C485.21,530.62 485.67,536.88 486.25,536.25C486.83,535.62 487.38,527.50 488.00,525.00C488.62,522.50 489.33,522.50 490.00,521.25C490.67,520.00 491.38,516.25 492.00,517.50C492.62,518.75 493.17,525.83 493.75,528.75C494.33,531.67 494.79,535.83 495.50,535.00C496.21,534.17 497.25,522.08 498.00,523.75C498.75,525.42 499.33,543.75 500.00,545.00C500.67,546.25 501.38,534.58 502.00,531.25C502.62,527.92 503.17,526.67 503.75,525.00C504.33,523.33 504.88,520.62 505.50,521.25C506.12,521.88 506.83,530.00 507.50,528.75C508.17,527.50 508.88,516.46 509.50,513.75C510.12,511.04 510.67,510.62 511.25,512.50C511.83,514.38 512.38,522.50 513.00,525.00C513.62,527.50 514.25,527.71 515.00,527.50C515.75,527.29 516.83,524.17 517.50,523.75C518.17,523.33 518.75,524.79 519.00,525.00" fill="none" stroke="#555" stroke-width="0.9" stroke-linejoin="round" stroke-linecap="round" />
<polyline points="288.30,526.20 289.30,526.20 290.30,526.19 291.30,526.19 292.30,526.19 293.30,526.19 294.30,526.19 295.30,526.19 296.30,526.19 297.30,526.18 298.30,526.18 299.30,526.18 300.30,526.17 301.30,526.17 302.30,526.17 303.30,526.16 304.30,526.15 305.30,526.15 306.30,526.14 307.30,526.13 308.30,526.12 309.30,526.11 310.30,526.09 311.30,526.08 312.30,526.06 313.30,526.04 314.30,526.02 315.30,525.99 316.30,525.97 317.30,525.93 318.30,525.90 319.30,525.86 320.30,525.81 321.30,525.77 322.30,525.71 323.30,525.65 324.30,525.58 325.30,525.51 326.30,525.42 327.30,525.33 328.30,525.23 329.30,525.11 330.30,524.99 331.30,524.85 332.30,524.70 333.30,524.54 334.30,524.36 335.30,524.17 336.30,523.95 337.30,523.72 338.30,523.47 339.30,523.19 340.30,522.89 341.30,522.57 342.30,522.23 343.30,521.85 344.30,521.45 345.30,521.01 346.30,520.55 347.30,520.05 348.30,519.52 349.30,518.95 350.30,518.34 351.30,517.70 352.30,517.01 353.30,516.28 354.30,515.51 355.30,514.70 356.30,513.84 357.30,512.94 358.30,511.99 359.30,510.99 360.30,509.94 361.30,508.85 362.30,507.71 363.30,506.53 364.30,505.29 365.30,504.01 366.30,502.68 367.30,501.31 368.30,499.90 369.30,498.44 370.30,496.95 371.30,495.41 372.30,493.84 373.30,492.24 374.30,490.61 375.30,488.95 376.30,487.27 377.30,485.57 378.30,483.86 379.30,482.13 380.30,480.40 381.30,478.66 382.30,476.93 383.30,475.21 384.30,473.50 385.30,471.80 386.30,470.14 387.30,468.50 388.30,466.89 389.30,465.33 390.30,463.81 391.30,462.34 392.30,460.93 393.30,459.58 394.30,458.30 395.30,457.09 396.30,455.95 397.30,454.90 398.30,453.93 399.30,453.05 400.30,452.26 401.30,451.57 402.30,450.97 403.30,450.48 404.30,450.09 405.30,449.80 406.30,449.62 407.30,449.54 408.30,449.58 409.30,449.71 410.30,449.96 411.30,450.31 412.30,450.76 413.30,451.32 414.30,451.97 415.30,452.72 416.30,453.56 417.30,454.50 418.30,455.52 419.30,456.62 420.30,457.80 421.30,459.06 422.30,460.38 423.30,461.77 424.30,463.22 425.30,464.71 426.30,466.26 427.30,467.85 428.30,469.48 429.30,471.13 430.30,472.82 431.30,474.52 432.30,476.24 433.30,477.97 434.30,479.70 435.30,481.44 436.30,483.17 437.30,484.89 438.30,486.59 439.30,488.28 440.30,489.95 441.30,491.59 442.30,493.21 443.30,494.79 444.30,496.34 445.30,497.85 446.30,499.32 447.30,500.75 448.30,502.14 449.30,503.48 450.30,504.78 451.30,506.04 452.30,507.24 453.30,508.40 454.30,509.51 455.30,510.58 456.30,511.59 457.30,512.56 458.30,513.48 459.30,514.36 460.30,515.19 461.30,515.98 462.30,516.72 463.30,517.43 464.30,518.09 465.30,518.71 466.30,519.29 467.30,519.84 468.30,520.35 469.30,520.83 470.30,521.28 471.30,521.69 472.30,522.08 473.30,522.44 474.30,522.77 475.30,523.08 476.30,523.36 477.30,523.62 478.30,523.86 479.30,524.08 480.30,524.28 481.30,524.47 482.30,524.64 483.30,524.80 484.30,524.94 485.30,525.07 486.30,525.18 487.30,525.29 488.30,525.39 489.30,525.47 490.30,525.55 491.30,525.62 492.30,525.69 493.30,525.74 494.30,525.80 495.30,525.84 496.30,525.88 497.30,525.92 498.30,525.95 499.30,525.98 500.30,526.01 501.30,526.03 502.30,526.05 503.30,526.07 504.30,526.09 505.30,526.10 506.30,526.11 507.30,526.13 508.30,526.14 509.30,526.14 510.30,526.15 511.30,526.16 512.30,526.16 513.30,526.17 514.30,526.17 515.30,526.18 516.30,526.18 517.30,526.18 518.30,526.19 519.30,526.19" fill="none" stroke="#1414cc" stroke-width="1.7" stroke-linejoin="round" />
</g>
<rect x="288.3" y="389.9" width="231.30" height="151.50" fill="none" stroke="#5a5a5a" stroke-width="1.15"/>
<line x1="288.30" y1="526.20" x2="291.50" y2="526.20" stroke="#5a5a5a" stroke-width="1.0" />
<line x1="516.40" y1="526.20" x2="519.60" y2="526.20" stroke="#5a5a5a" stroke-width="1.0" />
<line x1="288.30" y1="495.90" x2="290.00" y2="495.90" stroke="#5a5a5a" stroke-width="1.0" />
<line x1="517.90" y1="495.90" x2="519.60" y2="495.90" stroke="#5a5a5a" stroke-width="1.0" />
<line x1="288.30" y1="465.60" x2="291.50" y2="465.60" stroke="#5a5a5a" stroke-width="1.0" />
<line x1="516.40" y1="465.60" x2="519.60" y2="465.60" stroke="#5a5a5a" stroke-width="1.0" />
<line x1="288.30" y1="435.30" x2="290.00" y2="435.30" stroke="#5a5a5a" stroke-width="1.0" />
<line x1="517.90" y1="435.30" x2="519.60" y2="435.30" stroke="#5a5a5a" stroke-width="1.0" />
<line x1="288.30" y1="405.00" x2="291.50" y2="405.00" stroke="#5a5a5a" stroke-width="1.0" />
<line x1="516.40" y1="405.00" x2="519.60" y2="405.00" stroke="#5a5a5a" stroke-width="1.0" />
<text x="288.3" y="554.8" font-size="10.4" text-anchor="middle" font-weight="normal" font-style="normal" fill="#111"  stroke="#111" stroke-width="0.25">0</text>
<line x1="309.33" y1="539.70" x2="309.33" y2="541.40" stroke="#5a5a5a" stroke-width="1.0" />
<line x1="330.35" y1="538.20" x2="330.35" y2="541.40" stroke="#5a5a5a" stroke-width="1.0" />
<text x="330.3545454545455" y="554.8" font-size="10.4" text-anchor="middle" font-weight="normal" font-style="normal" fill="#111"  stroke="#111" stroke-width="0.25">1</text>
<line x1="351.38" y1="539.70" x2="351.38" y2="541.40" stroke="#5a5a5a" stroke-width="1.0" />
<line x1="372.41" y1="538.20" x2="372.41" y2="541.40" stroke="#5a5a5a" stroke-width="1.0" />
<text x="372.40909090909093" y="554.8" font-size="10.4" text-anchor="middle" font-weight="normal" font-style="normal" fill="#111"  stroke="#111" stroke-width="0.25">2</text>
<line x1="393.44" y1="539.70" x2="393.44" y2="541.40" stroke="#5a5a5a" stroke-width="1.0" />
<line x1="414.46" y1="538.20" x2="414.46" y2="541.40" stroke="#5a5a5a" stroke-width="1.0" />
<text x="414.4636363636364" y="554.8" font-size="10.4" text-anchor="middle" font-weight="normal" font-style="normal" fill="#111"  stroke="#111" stroke-width="0.25">3</text>
<line x1="435.49" y1="539.70" x2="435.49" y2="541.40" stroke="#5a5a5a" stroke-width="1.0" />
<line x1="456.52" y1="538.20" x2="456.52" y2="541.40" stroke="#5a5a5a" stroke-width="1.0" />
<text x="456.5181818181818" y="554.8" font-size="10.4" text-anchor="middle" font-weight="normal" font-style="normal" fill="#111"  stroke="#111" stroke-width="0.25">4</text>
<line x1="477.55" y1="539.70" x2="477.55" y2="541.40" stroke="#5a5a5a" stroke-width="1.0" />
<line x1="498.57" y1="538.20" x2="498.57" y2="541.40" stroke="#5a5a5a" stroke-width="1.0" />
<text x="498.5727272727273" y="554.8" font-size="10.4" text-anchor="middle" font-weight="normal" font-style="normal" fill="#111"  stroke="#111" stroke-width="0.25">5</text>
<line x1="370.80" y1="504.30" x2="445.40" y2="504.30" stroke="#3f72c4" stroke-width="2.0" />
<polygon points="366.80,504.30 372.60,501.10 372.60,507.50" fill="#3f72c4" />
<polygon points="449.40,504.30 443.60,507.50 443.60,501.10" fill="#3f72c4" />
<text x="403.6" y="498.0" font-size="12.4" text-anchor="start" font-weight="normal" font-style="italic" fill="#111"  stroke="#111" stroke-width="0.25">d</text>
<line x1="429.20" y1="410.00" x2="444.20" y2="410.00" stroke="#1c2a66" stroke-width="1.6" />
<text x="450.5" y="413.8" font-size="11" text-anchor="start" font-weight="normal" font-style="normal" fill="#1a1a1a" textLength="59.6" lengthAdjust="spacingAndGlyphs"  stroke="#1a1a1a" stroke-width="0.25">Gaussian fit</text>
<text x="240" y="572.8" font-size="14.2" text-anchor="start" font-weight="normal" font-style="normal" fill="#111"  stroke="#111" stroke-width="0.25">Position</text>
<text x="300" y="572.8" font-size="14.2" text-anchor="start" font-weight="normal" font-style="normal" fill="#111"  stroke="#111" stroke-width="0.25">(mm)</text>
<text x="-0.6" y="592.0" font-size="15.8" text-anchor="start" font-weight="normal" font-style="normal" fill="#111" textLength="18.9" lengthAdjust="spacingAndGlyphs"  stroke="#111" stroke-width="0.25">(c)</text>
<clipPath id="clipCL"><rect x="32.8" y="587.5" width="163.7" height="257.5"/></clipPath>
<clipPath id="clipCR"><rect x="205.7" y="587.5" width="165.00" height="257.5"/></clipPath>
<g clip-path="url(#clipCL)">
<line x1="32.80" y1="841.32" x2="196.43" y2="604.00" stroke="#222" stroke-width="0.9" />
<line x1="32.80" y1="841.32" x2="196.43" y2="701.28" stroke="#222" stroke-width="0.9" />
<line x1="32.80" y1="841.32" x2="196.43" y2="757.30" stroke="#222" stroke-width="0.9" />
<line x1="32.80" y1="841.32" x2="196.43" y2="789.73" stroke="#222" stroke-width="0.9" />
</g>
<polygon points="47.25,835.34 56.85,835.34 52.05,843.74" fill="#111" />
<polygon points="66.50,826.86 76.10,826.86 71.30,835.26" fill="#111" />
<polygon points="85.75,820.96 95.35,820.96 90.55,829.36" fill="#111" />
<polygon points="105.00,813.96 114.60,813.96 109.80,822.36" fill="#111" />
<polygon points="124.25,807.70 133.85,807.70 129.05,816.10" fill="#111" />
<polygon points="143.50,802.54 153.10,802.54 148.30,810.94" fill="#111" />
<polygon points="162.75,794.43 172.35,794.43 167.55,802.83" fill="#111" />
<polygon points="52.05,823.49 57.35,828.79 52.05,834.09 46.75,828.79" fill="#111" />
<polygon points="71.30,814.64 76.60,819.94 71.30,825.24 66.00,819.94" fill="#111" />
<polygon points="90.55,803.59 95.85,808.89 90.55,814.19 85.25,808.89" fill="#111" />
<polygon points="109.80,792.53 115.10,797.83 109.80,803.13 104.50,797.83" fill="#111" />
<polygon points="129.05,784.79 134.35,790.09 129.05,795.39 123.75,790.09" fill="#111" />
<polygon points="148.30,774.11 153.60,779.41 148.30,784.71 143.00,779.41" fill="#111" />
<polygon points="167.55,766.00 172.85,771.30 167.55,776.60 162.25,771.30" fill="#111" />
<polygon points="55.65,830.62 55.65,840.22 47.15,835.42" fill="#111" />
<polygon points="74.90,811.46 74.90,821.06 66.40,816.26" fill="#111" />
<polygon points="94.15,781.98 94.15,791.58 85.65,786.78" fill="#111" />
<polygon points="113.40,766.87 113.40,776.47 104.90,771.67" fill="#111" />
<polygon points="132.65,751.76 132.65,761.36 124.15,756.56" fill="#111" />
<polygon points="151.90,741.00 151.90,750.60 143.40,745.80" fill="#111" />
<polygon points="171.15,726.70 171.15,736.30 162.65,731.50" fill="#111" />
<polygon points="48.45,806.45 48.45,816.05 56.95,811.25" fill="#111" />
<polygon points="67.70,781.46 67.70,791.06 76.20,786.26" fill="#111" />
<polygon points="86.95,750.29 86.95,759.89 95.45,755.09" fill="#111" />
<polygon points="106.20,725.23 106.20,734.83 114.70,730.03" fill="#111" />
<polygon points="125.45,697.96 125.45,707.56 133.95,702.76" fill="#111" />
<polygon points="145.66,667.30 145.66,676.90 154.16,672.10" fill="#111" />
<polygon points="164.34,641.58 164.34,651.18 172.84,646.38" fill="#111" />
<rect x="32.8" y="587.5" width="163.70" height="257.50" fill="none" stroke="#262626" stroke-width="1.1"/>
<rect x="205.7" y="587.5" width="165.00" height="257.50" fill="none" stroke="#262626" stroke-width="1.1"/>
<line x1="32.80" y1="808.15" x2="35.00" y2="808.15" stroke="#2a2a2a" stroke-width="0.9" />
<line x1="194.30" y1="808.15" x2="196.50" y2="808.15" stroke="#2a2a2a" stroke-width="0.9" />
<line x1="32.80" y1="771.30" x2="37.20" y2="771.30" stroke="#2a2a2a" stroke-width="0.9" />
<line x1="192.10" y1="771.30" x2="196.50" y2="771.30" stroke="#2a2a2a" stroke-width="0.9" />
<line x1="32.80" y1="734.45" x2="35.00" y2="734.45" stroke="#2a2a2a" stroke-width="0.9" />
<line x1="194.30" y1="734.45" x2="196.50" y2="734.45" stroke="#2a2a2a" stroke-width="0.9" />
<line x1="32.80" y1="697.60" x2="37.20" y2="697.60" stroke="#2a2a2a" stroke-width="0.9" />
<line x1="192.10" y1="697.60" x2="196.50" y2="697.60" stroke="#2a2a2a" stroke-width="0.9" />
<line x1="32.80" y1="660.75" x2="35.00" y2="660.75" stroke="#2a2a2a" stroke-width="0.9" />
<line x1="194.30" y1="660.75" x2="196.50" y2="660.75" stroke="#2a2a2a" stroke-width="0.9" />
<line x1="32.80" y1="623.90" x2="37.20" y2="623.90" stroke="#2a2a2a" stroke-width="0.9" />
<line x1="192.10" y1="623.90" x2="196.50" y2="623.90" stroke="#2a2a2a" stroke-width="0.9" />
<line x1="205.70" y1="808.15" x2="207.90" y2="808.15" stroke="#2a2a2a" stroke-width="0.9" />
<line x1="368.50" y1="808.15" x2="370.70" y2="808.15" stroke="#2a2a2a" stroke-width="0.9" />
<line x1="205.70" y1="771.30" x2="210.10" y2="771.30" stroke="#2a2a2a" stroke-width="0.9" />
<line x1="366.30" y1="771.30" x2="370.70" y2="771.30" stroke="#2a2a2a" stroke-width="0.9" />
<line x1="205.70" y1="734.45" x2="207.90" y2="734.45" stroke="#2a2a2a" stroke-width="0.9" />
<line x1="368.50" y1="734.45" x2="370.70" y2="734.45" stroke="#2a2a2a" stroke-width="0.9" />
<line x1="205.70" y1="697.60" x2="210.10" y2="697.60" stroke="#2a2a2a" stroke-width="0.9" />
<line x1="366.30" y1="697.60" x2="370.70" y2="697.60" stroke="#2a2a2a" stroke-width="0.9" />
<line x1="205.70" y1="660.75" x2="207.90" y2="660.75" stroke="#2a2a2a" stroke-width="0.9" />
<line x1="368.50" y1="660.75" x2="370.70" y2="660.75" stroke="#2a2a2a" stroke-width="0.9" />
<line x1="205.70" y1="623.90" x2="210.10" y2="623.90" stroke="#2a2a2a" stroke-width="0.9" />
<line x1="366.30" y1="623.90" x2="370.70" y2="623.90" stroke="#2a2a2a" stroke-width="0.9" />
<text x="27.4" y="848.8" font-size="10.4" text-anchor="end" font-weight="normal" font-style="normal" fill="#111"  stroke="#111" stroke-width="0.25">0</text>
<text x="27.4" y="775.0999999999999" font-size="10.4" text-anchor="end" font-weight="normal" font-style="normal" fill="#111"  stroke="#111" stroke-width="0.25">1</text>
<text x="27.4" y="701.4" font-size="10.4" text-anchor="end" font-weight="normal" font-style="normal" fill="#111"  stroke="#111" stroke-width="0.25">2</text>
<text x="27.4" y="627.6999999999999" font-size="10.4" text-anchor="end" font-weight="normal" font-style="normal" fill="#111"  stroke="#111" stroke-width="0.25">3</text>
<text x="32.8" y="859.4" font-size="10.4" text-anchor="middle" font-weight="normal" font-style="normal" fill="#111"  stroke="#111" stroke-width="0.25">0</text>
<line x1="52.05" y1="842.80" x2="52.05" y2="845.00" stroke="#2a2a2a" stroke-width="0.9" />
<line x1="71.30" y1="840.60" x2="71.30" y2="845.00" stroke="#2a2a2a" stroke-width="0.9" />
<text x="71.3" y="859.4" font-size="10.4" text-anchor="middle" font-weight="normal" font-style="normal" fill="#111"  stroke="#111" stroke-width="0.25">200</text>
<line x1="90.55" y1="842.80" x2="90.55" y2="845.00" stroke="#2a2a2a" stroke-width="0.9" />
<line x1="109.80" y1="840.60" x2="109.80" y2="845.00" stroke="#2a2a2a" stroke-width="0.9" />
<text x="109.8" y="859.4" font-size="10.4" text-anchor="middle" font-weight="normal" font-style="normal" fill="#111"  stroke="#111" stroke-width="0.25">400</text>
<line x1="129.05" y1="842.80" x2="129.05" y2="845.00" stroke="#2a2a2a" stroke-width="0.9" />
<line x1="148.30" y1="840.60" x2="148.30" y2="845.00" stroke="#2a2a2a" stroke-width="0.9" />
<text x="148.3" y="859.4" font-size="10.4" text-anchor="middle" font-weight="normal" font-style="normal" fill="#111"  stroke="#111" stroke-width="0.25">600</text>
<line x1="167.55" y1="842.80" x2="167.55" y2="845.00" stroke="#2a2a2a" stroke-width="0.9" />
<line x1="186.80" y1="840.60" x2="186.80" y2="845.00" stroke="#2a2a2a" stroke-width="0.9" />
<text x="186.8" y="859.4" font-size="10.4" text-anchor="middle" font-weight="normal" font-style="normal" fill="#111"  stroke="#111" stroke-width="0.25">800</text>
<rect x="148.6" y="626.8" width="44.0" height="12.5" fill="#fff" stroke="#8c8c8c" stroke-width="0.9"/>
<g font-size="10.5" fill="#111" stroke="#111" stroke-width="0.2"><text x="150.6" y="636.6999999999999" font-style="italic">l</text><text x="154.9" y="636.6999999999999" font-style="italic">/</text><text x="160.3" y="636.6999999999999" font-style="italic" textLength="5.5" lengthAdjust="spacingAndGlyphs">d</text><text x="168.1" y="636.6999999999999" textLength="5.6" lengthAdjust="spacingAndGlyphs">=</text><text x="176.0" y="636.6999999999999" textLength="15.4" lengthAdjust="spacingAndGlyphs">250</text></g>
<rect x="148.6" y="707.4" width="44.0" height="12.3" fill="#fff" stroke="#8c8c8c" stroke-width="0.9"/>
<g font-size="10.5" fill="#111" stroke="#111" stroke-width="0.2"><text x="150.6" y="717.3" font-style="italic">l</text><text x="154.9" y="717.3" font-style="italic">/</text><text x="160.3" y="717.3" font-style="italic" textLength="5.5" lengthAdjust="spacingAndGlyphs">d</text><text x="168.1" y="717.3" textLength="5.6" lengthAdjust="spacingAndGlyphs">=</text><text x="176.0" y="717.3" textLength="15.4" lengthAdjust="spacingAndGlyphs">420</text></g>
<rect x="148.6" y="752.3" width="44.0" height="12.2" fill="#fff" stroke="#8c8c8c" stroke-width="0.9"/>
<g font-size="10.5" fill="#111" stroke="#111" stroke-width="0.2"><text x="150.6" y="762.1999999999999" font-style="italic">l</text><text x="154.9" y="762.1999999999999" font-style="italic">/</text><text x="160.3" y="762.1999999999999" font-style="italic" textLength="5.5" lengthAdjust="spacingAndGlyphs">d</text><text x="168.1" y="762.1999999999999" textLength="5.6" lengthAdjust="spacingAndGlyphs">=</text><text x="176.0" y="762.1999999999999" textLength="15.4" lengthAdjust="spacingAndGlyphs">760</text></g>
<rect x="143.3" y="813.9" width="49.7" height="12.2" fill="#fff" stroke="#8c8c8c" stroke-width="0.9"/>
<g font-size="10.5" fill="#111" stroke="#111" stroke-width="0.2"><text x="145.3" y="823.8" font-style="italic">l</text><text x="149.6" y="823.8" font-style="italic">/</text><text x="155.0" y="823.8" font-style="italic" textLength="5.5" lengthAdjust="spacingAndGlyphs">d</text><text x="162.8" y="823.8" textLength="5.6" lengthAdjust="spacingAndGlyphs">=</text><text x="170.7" y="823.8" textLength="21.1" lengthAdjust="spacingAndGlyphs">1090</text></g>
<g clip-path="url(#clipCR)">
<line x1="205.70" y1="839.10" x2="341.95" y2="587.05" stroke="#222" stroke-width="0.9" />
<line x1="205.70" y1="841.32" x2="370.60" y2="647.12" stroke="#222" stroke-width="0.9" />
<line x1="205.70" y1="840.58" x2="370.60" y2="755.82" stroke="#222" stroke-width="0.9" />
</g>
<circle cx="208.22" cy="836.52" r="4.2" fill="#111"/>
<circle cx="219.40" cy="833.21" r="4.2" fill="#111"/>
<circle cx="258.51" cy="812.20" r="4.2" fill="#111"/>
<circle cx="311.24" cy="786.04" r="4.2" fill="#111"/>
<circle cx="349.65" cy="765.55" r="4.2" fill="#111"/>
<polygon points="203.42,839.56 213.02,839.56 208.22,831.16" fill="#111" />
<polygon points="214.60,833.66 224.20,833.66 219.40,825.26" fill="#111" />
<polygon points="254.06,784.72 263.66,784.72 258.86,776.32" fill="#111" />
<polygon points="287.04,743.97 296.64,743.97 291.84,735.57" fill="#111" />
<polygon points="306.44,713.53 316.04,713.53 311.24,705.13" fill="#111" />
<polygon points="325.84,697.31 335.44,697.31 330.64,688.91" fill="#111" />
<polygon points="344.85,670.27 354.45,670.27 349.65,661.87" fill="#111" />
<rect x="204.52" y="822.29" width="7.4" height="7.4" fill="#111"/>
<rect x="215.70" y="811.30" width="7.4" height="7.4" fill="#111"/>
<rect x="255.16" y="732.59" width="7.4" height="7.4" fill="#111"/>
<rect x="288.14" y="679.38" width="7.4" height="7.4" fill="#111"/>
<rect x="326.94" y="601.04" width="7.4" height="7.4" fill="#111"/>
<text x="206.29999999999998" y="859.4" font-size="10.4" text-anchor="middle" font-weight="normal" font-style="normal" fill="#111"  stroke="#111" stroke-width="0.25">0</text>
<line x1="225.10" y1="842.80" x2="225.10" y2="845.00" stroke="#2a2a2a" stroke-width="0.9" />
<line x1="244.50" y1="840.60" x2="244.50" y2="845.00" stroke="#2a2a2a" stroke-width="0.9" />
<text x="244.5" y="859.4" font-size="10.4" text-anchor="middle" font-weight="normal" font-style="normal" fill="#111"  stroke="#111" stroke-width="0.25">2000</text>
<line x1="263.90" y1="842.80" x2="263.90" y2="845.00" stroke="#2a2a2a" stroke-width="0.9" />
<line x1="283.30" y1="840.60" x2="283.30" y2="845.00" stroke="#2a2a2a" stroke-width="0.9" />
<text x="283.3" y="859.4" font-size="10.4" text-anchor="middle" font-weight="normal" font-style="normal" fill="#111"  stroke="#111" stroke-width="0.25">4000</text>
<line x1="302.70" y1="842.80" x2="302.70" y2="845.00" stroke="#2a2a2a" stroke-width="0.9" />
<line x1="322.10" y1="840.60" x2="322.10" y2="845.00" stroke="#2a2a2a" stroke-width="0.9" />
<text x="322.1" y="859.4" font-size="10.4" text-anchor="middle" font-weight="normal" font-style="normal" fill="#111"  stroke="#111" stroke-width="0.25">6000</text>
<line x1="341.50" y1="842.80" x2="341.50" y2="845.00" stroke="#2a2a2a" stroke-width="0.9" />
<line x1="360.90" y1="840.60" x2="360.90" y2="845.00" stroke="#2a2a2a" stroke-width="0.9" />
<text x="360.9" y="859.4" font-size="10.4" text-anchor="middle" font-weight="normal" font-style="normal" fill="#111"  stroke="#111" stroke-width="0.25">8000</text>
<rect x="308.8" y="627.0" width="48.8" height="12.4" fill="#fff" stroke="#8c8c8c" stroke-width="0.9"/>
<g font-size="10.5" fill="#111" stroke="#111" stroke-width="0.2"><text x="310.8" y="636.9" font-style="italic">l</text><text x="315.1" y="636.9" font-style="italic">/</text><text x="320.5" y="636.9" font-style="italic" textLength="5.5" lengthAdjust="spacingAndGlyphs">d</text><text x="328.3" y="636.9" textLength="5.6" lengthAdjust="spacingAndGlyphs">=</text><text x="336.2" y="636.9" textLength="21.1" lengthAdjust="spacingAndGlyphs">2030</text></g>
<rect x="308.8" y="724.2" width="48.8" height="12.0" fill="#fff" stroke="#8c8c8c" stroke-width="0.9"/>
<g font-size="10.5" fill="#111" stroke="#111" stroke-width="0.2"><text x="310.8" y="734.1" font-style="italic">l</text><text x="315.1" y="734.1" font-style="italic">/</text><text x="320.5" y="734.1" font-style="italic" textLength="5.5" lengthAdjust="spacingAndGlyphs">d</text><text x="328.3" y="734.1" textLength="5.6" lengthAdjust="spacingAndGlyphs">=</text><text x="336.2" y="734.1" textLength="21.1" lengthAdjust="spacingAndGlyphs">2970</text></g>
<rect x="308.8" y="796.0" width="48.8" height="12.0" fill="#fff" stroke="#8c8c8c" stroke-width="0.9"/>
<g font-size="10.5" fill="#111" stroke="#111" stroke-width="0.2"><text x="310.8" y="805.9" font-style="italic">l</text><text x="315.1" y="805.9" font-style="italic">/</text><text x="320.5" y="805.9" font-style="italic" textLength="5.5" lengthAdjust="spacingAndGlyphs">d</text><text x="328.3" y="805.9" textLength="5.6" lengthAdjust="spacingAndGlyphs">=</text><text x="336.2" y="805.9" textLength="21.1" lengthAdjust="spacingAndGlyphs">7370</text></g>
<g transform="translate(11.4,0) rotate(-90)" font-size="12.9" fill="#111" stroke="#111" stroke-width="0.2"><text x="-793.4" y="0" textLength="97.8" lengthAdjust="spacingAndGlyphs">Geometric blurring</text><text x="-691.6" y="0" font-style="italic" textLength="6.6" lengthAdjust="spacingAndGlyphs">d</text><text x="-674.2" y="0" textLength="31" lengthAdjust="spacingAndGlyphs">(mm)</text></g>
<g font-size="12.7" fill="#111" stroke="#111" stroke-width="0.2"><text x="109.8" y="876.5" textLength="41.2" lengthAdjust="spacingAndGlyphs">Sample</text><text x="153.2" y="876.5">–</text><text x="163.6" y="876.5" textLength="45.2" lengthAdjust="spacingAndGlyphs">detector</text><text x="211.7" y="876.5" textLength="45.4" lengthAdjust="spacingAndGlyphs">distance</text><text x="262.2" y="876.5" font-style="italic">l</text><text x="271.4" y="876.5" textLength="29.6" lengthAdjust="spacingAndGlyphs">(mm)</text></g>
</svg>
</body></html>
